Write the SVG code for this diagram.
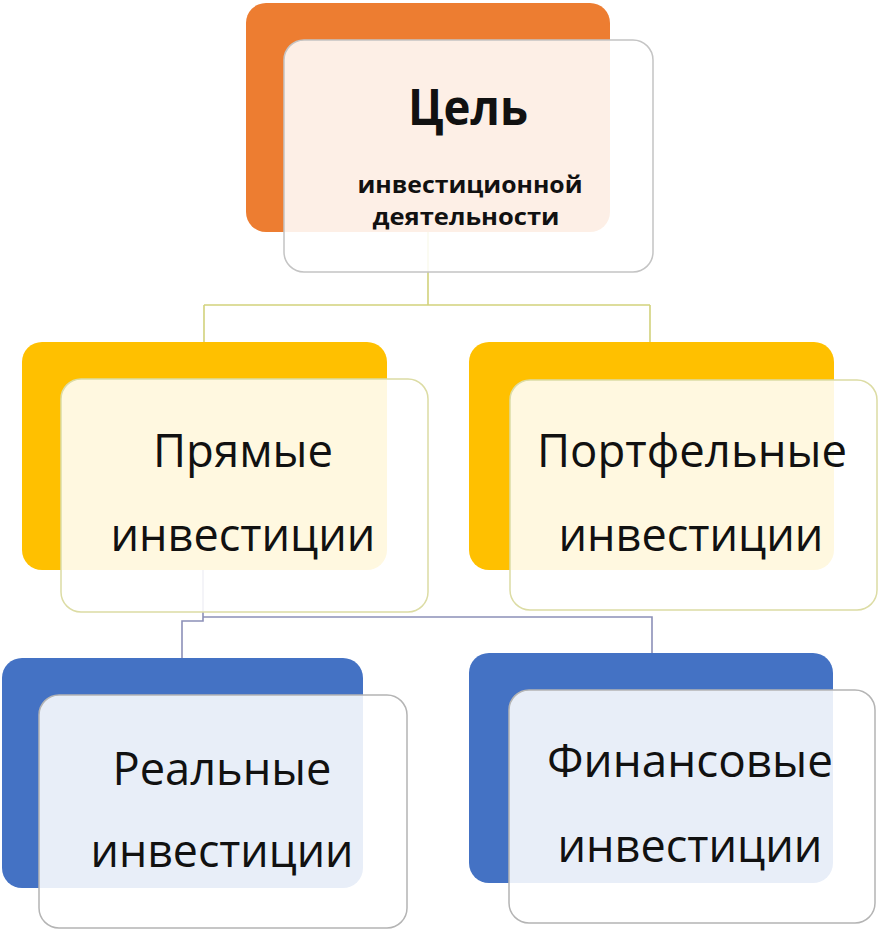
<svg xmlns="http://www.w3.org/2000/svg" width="879" height="952" viewBox="0 0 879 952">
<style>
.front{fill:#ffffff;fill-opacity:0.88;stroke-width:1.5}
.lbl{font-family:"Open Sans","DejaVu Sans",sans-serif;font-size:45px;fill:#111;text-anchor:middle}
.top{font-family:"Open Sans","DejaVu Sans",sans-serif;font-weight:bold;fill:#111;text-anchor:middle}
.cy{fill:none;stroke:#d2d27c;stroke-width:1.6}
.cb{fill:none;stroke:#8c90b8;stroke-width:1.6}
</style>
<rect width="879" height="952" fill="#ffffff"/>
<g id="connectors">
<path class="cy" d="M428 232 V305 M204 305 H650 M204 305 V342 M650 305 V342"/>
<path class="cb" d="M203 570 V621 H182 V658 M203 617 H652 V653"/>
</g>
<g id="node-goal">
<rect x="246" y="3" width="364" height="229" rx="20" fill="#ED7D31"/>
<rect class="front" x="284" y="40" width="369" height="232" rx="20" stroke="#c4c4c4"/>
<text class="top" x="468" y="125" font-size="50" textLength="120" lengthAdjust="spacingAndGlyphs">Цель</text>
<text class="top" x="470" y="193" font-size="23" textLength="225" lengthAdjust="spacingAndGlyphs">инвестиционной</text>
<text class="top" x="466" y="225" font-size="23" textLength="187" lengthAdjust="spacingAndGlyphs">деятельности</text>
</g>
<g id="node-direct">
<rect x="22" y="342" width="365" height="228" rx="20" fill="#FFC000"/>
<rect class="front" x="61" y="379" width="367" height="233" rx="20" stroke="#dcdca4"/>
<text class="lbl" x="243" y="467" textLength="180" lengthAdjust="spacingAndGlyphs">Прямые</text>
<text class="lbl" x="243" y="551" textLength="265" lengthAdjust="spacingAndGlyphs">инвестиции</text>
</g>
<g id="node-portfolio">
<rect x="469" y="342" width="365" height="228" rx="20" fill="#FFC000"/>
<rect class="front" x="510" y="380" width="367" height="230" rx="20" stroke="#dcdca4"/>
<text class="lbl" x="692" y="467" textLength="310" lengthAdjust="spacingAndGlyphs">Портфельные</text>
<text class="lbl" x="691" y="551" textLength="265" lengthAdjust="spacingAndGlyphs">инвестиции</text>
</g>
<g id="node-real">
<rect x="2" y="658" width="361" height="230" rx="20" fill="#4472C4"/>
<rect class="front" x="39" y="695" width="368" height="233" rx="20" stroke="#b4b4b4"/>
<text class="lbl" x="222" y="785" textLength="219" lengthAdjust="spacingAndGlyphs">Реальные</text>
<text class="lbl" x="222" y="867" textLength="263" lengthAdjust="spacingAndGlyphs">инвестиции</text>
</g>
<g id="node-financial">
<rect x="469" y="653" width="364" height="230" rx="20" fill="#4472C4"/>
<rect class="front" x="509" y="690" width="366" height="233" rx="20" stroke="#b4b4b4"/>
<text class="lbl" x="690" y="777" textLength="286" lengthAdjust="spacingAndGlyphs">Финансовые</text>
<text class="lbl" x="690" y="862" textLength="265" lengthAdjust="spacingAndGlyphs">инвестиции</text>
</g>
</svg>
